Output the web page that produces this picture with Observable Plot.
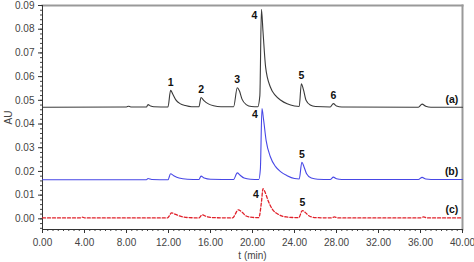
<!DOCTYPE html>
<html>
<head>
<meta charset="utf-8">
<script src="https://cdn.jsdelivr.net/npm/d3@7"></script>
<script src="https://cdn.jsdelivr.net/npm/@observablehq/plot@0.6"></script>
<style>
  html, body { margin: 0; padding: 0; background: #fff; }
  #chart { width: 474px; height: 262px; }
  svg { font-family: "Liberation Sans", Arial, sans-serif; }
</style>
</head>
<body>
<div id="chart"></div>
<script>
// Trace (a) — black
const timeA = [0, 8.0, 8.2, 8.4, 9.9, 10.05, 10.3, 10.6, 11.95, 12.2, 12.4, 12.7, 13.1, 13.6, 14.2, 14.9, 15.1, 15.35, 15.8, 16.3, 17.0, 18.2, 18.55, 18.75, 19.0, 19.4, 19.9, 20.5, 20.7, 20.85, 21.0, 21.25, 21.7, 22.2, 22.7, 23.3, 24.0, 24.45, 24.65, 24.85, 25.1, 25.5, 26.0, 27.4, 27.7, 28.0, 28.5, 35.8, 36.15, 36.5, 37.0, 40];
const valA  = [0.0471, 0.0472, 0.0475, 0.0472, 0.0472, 0.0482, 0.0476, 0.0473, 0.0472, 0.0542, 0.0527, 0.0502, 0.0486, 0.0478, 0.0473, 0.0473, 0.0512, 0.0500, 0.0485, 0.0477, 0.0473, 0.0473, 0.0553, 0.0540, 0.0505, 0.0482, 0.0474, 0.0473, 0.0520, 0.0884, 0.0790, 0.0640, 0.0556, 0.0520, 0.0500, 0.0485, 0.0476, 0.0474, 0.0570, 0.0545, 0.0500, 0.0480, 0.0474, 0.0472, 0.0486, 0.0476, 0.0472, 0.0471, 0.0484, 0.0475, 0.0471, 0.0471];

// Trace (b) — blue
const timeB = [0, 9.9, 10.05, 10.4, 11.95, 12.2, 12.5, 13.0, 13.8, 14.9, 15.1, 15.4, 16.0, 18.2, 18.55, 18.8, 19.2, 19.8, 20.6, 20.75, 20.9, 21.05, 21.3, 21.7, 22.2, 22.7, 23.3, 24.0, 24.45, 24.7, 24.9, 25.15, 25.6, 26.2, 27.4, 27.7, 28.0, 28.5, 35.8, 36.15, 36.5, 37.0, 40];
const valB  = [0.0165, 0.0165, 0.0170, 0.0166, 0.0165, 0.0190, 0.0182, 0.0172, 0.0167, 0.0166, 0.0180, 0.0172, 0.0167, 0.0166, 0.0194, 0.0185, 0.0172, 0.0167, 0.0166, 0.0210, 0.0465, 0.0420, 0.0330, 0.0262, 0.0220, 0.0198, 0.0182, 0.0170, 0.0168, 0.0239, 0.0220, 0.0190, 0.0172, 0.0167, 0.0166, 0.0176, 0.0169, 0.0166, 0.0166, 0.0175, 0.0168, 0.0166, 0.0166];

// Trace (c) — red dashed
const timeC = [0, 3.6, 3.8, 4.0, 11.9, 12.3, 12.6, 13.2, 14.0, 14.9, 15.2, 15.6, 16.3, 18.1, 18.65, 18.95, 19.4, 20.0, 20.6, 20.85, 21.0, 21.2, 21.5, 21.9, 22.5, 23.2, 24.4, 24.75, 25.0, 25.4, 26.0, 27.5, 27.8, 28.1, 36.0, 36.3, 36.6, 40];
const valC  = [0.0004, 0.0004, 0.0007, 0.0004, 0.0004, 0.0025, 0.0020, 0.0010, 0.0005, 0.0004, 0.0017, 0.0010, 0.0005, 0.0004, 0.0038, 0.0030, 0.0012, 0.0006, 0.0005, 0.0070, 0.0127, 0.0112, 0.0075, 0.0040, 0.0018, 0.0008, 0.0005, 0.0035, 0.0028, 0.0012, 0.0005, 0.0004, 0.0008, 0.0004, 0.0004, 0.0008, 0.0004, 0.0004];

// Peak labels
const peakLabels  = ["1", "2", "3", "4", "5", "6", "4", "5", "4", "5"];
const peakTimes   = [12.2, 15.1, 18.55, 20.85, 24.65, 27.7, 20.9, 24.7, 21.0, 24.75];
const peakValues  = [0.0542, 0.0512, 0.0553, 0.0884, 0.0570, 0.0486, 0.0465, 0.0239, 0.0127, 0.0035];
const peakSide    = ["top", "top", "top", "left", "top", "top", "left", "top", "left", "top"];

// Series labels
const seriesLabels = ["(a)", "(b)", "(c)"];
const seriesBase   = [0.0471, 0.0165, 0.0004];

const yTicks = [0, 0.01, 0.02, 0.03, 0.04, 0.05, 0.06, 0.07, 0.08, 0.09];
const xTicks = [0, 4, 8, 12, 16, 20, 24, 28, 32, 36, 40];

const mk = (ts, vs) => ts.map((t, i) => ({t, v: vs[i]}));
const dataA = mk(timeA, valA);
const dataB = mk(timeB, valB);
const dataC = mk(timeC, valC);
const peaks = peakLabels.map((l, i) => ({l, t: peakTimes[i], v: peakValues[i], side: peakSide[i]}));
const series = seriesLabels.map((l, i) => ({l, t: 39.6, v: seriesBase[i]}));

const yMinor = d3.range(-0.004, 0.0901, 0.002).map(d => +d.toFixed(4));
const xMinor = d3.range(0, 40.01, 0.5);
const noText = () => "";

const plot = Plot.plot({
  width: 474,
  height: 262,
  marginLeft: 42,
  marginRight: 12,
  marginTop: 5,
  marginBottom: 33,
  style: {fontFamily: "Liberation Sans, Arial, sans-serif", fontSize: "10px", color: "#444", background: "#fff"},
  x: {domain: [0, 40]},
  y: {domain: [-0.0045, 0.09]},
  marks: [
    Plot.frame({anchor: "top", stroke: "#999", strokeWidth: 2}),
    Plot.frame({anchor: "right", stroke: "#999", strokeWidth: 2}),
    Plot.axisX({ticks: xMinor, tickSize: 2, tickFormat: noText, label: null, stroke: "#444"}),
    Plot.axisY({ticks: yMinor, tickSize: 2, tickFormat: noText, label: null, stroke: "#444"}),
    Plot.axisX({ticks: xTicks, tickFormat: d3.format(".2f"), tickSize: 4, tickPadding: 5, label: "t (min)", labelAnchor: "center", labelArrow: "none", labelOffset: 29, stroke: "#333", fill: "#444"}),
    Plot.axisY({ticks: yTicks, tickFormat: d3.format(".2f"), tickSize: 4, tickPadding: 4, label: "AU", labelAnchor: "center", labelArrow: "none", labelOffset: 38, stroke: "#333", fill: "#444"}),
    Plot.ruleX([0], {stroke: "#333", strokeWidth: 1}),
    Plot.ruleY([-0.0045], {stroke: "#333", strokeWidth: 1}),
    Plot.line(dataA, {x: "t", y: "v", stroke: "#3a3a3a", strokeWidth: 1.1, curve: "monotone-x"}),
    Plot.line(dataB, {x: "t", y: "v", stroke: "#4747e6", strokeWidth: 1.1, curve: "monotone-x"}),
    Plot.line(dataC, {x: "t", y: "v", stroke: "#e0202a", strokeWidth: 1.3, strokeDasharray: "3,2", curve: "monotone-x"}),
    Plot.text(peaks.filter(d => d.side === "top"), {x: "t", y: "v", text: "l", dy: -8, fontWeight: "bold", fontSize: 10.5, fill: "#111"}),
    Plot.text(peaks.filter(d => d.side === "left"), {x: "t", y: "v", text: "l", dx: -7, dy: 6, fontWeight: "bold", fontSize: 10.5, fill: "#111"}),
    Plot.text(series, {x: "t", y: "v", text: "l", dy: -8, textAnchor: "end", fontWeight: "bold", fontSize: 10.5, fill: "#111"})
  ]
});
document.getElementById("chart").appendChild(plot);
</script>
</body>
</html>
